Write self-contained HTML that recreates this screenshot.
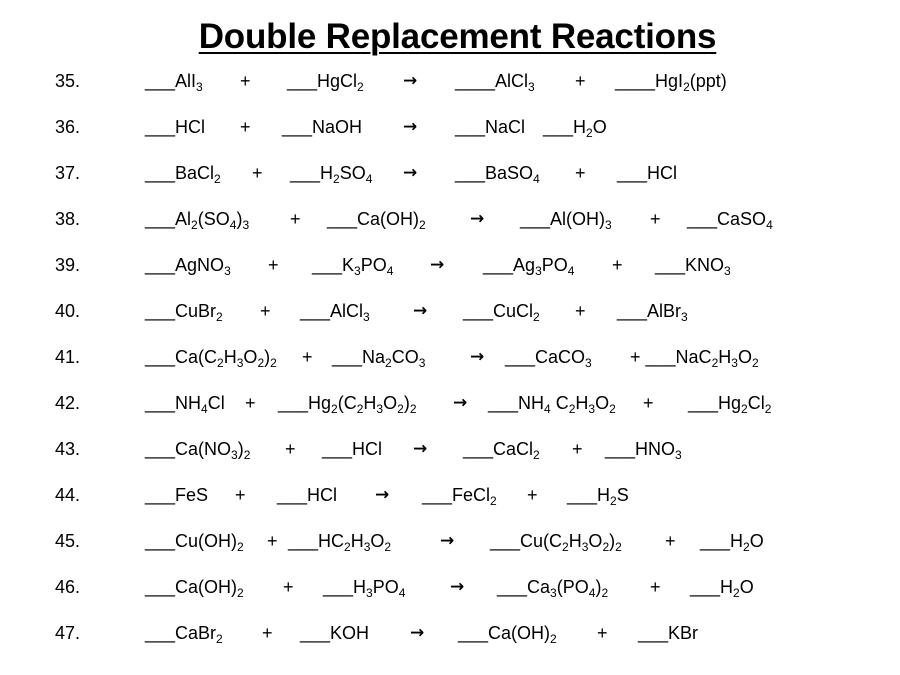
<!DOCTYPE html>
<html><head><meta charset="utf-8"><style>
body{margin:0;background:#fff;}
#p{position:relative;width:900px;height:675px;overflow:hidden;font-family:"Liberation Sans",sans-serif;color:#000;}
h1{position:absolute;left:0;width:915px;top:17px;margin:0;text-align:center;font-size:35px;font-weight:bold;text-decoration:underline;text-decoration-thickness:2px;text-underline-offset:4px;letter-spacing:-0.2px;}
.r{position:absolute;left:0;width:900px;height:24px;font-size:18px;}
.r span{position:absolute;top:0;white-space:nowrap;}
sub{font-size:12px;vertical-align:-4px;line-height:0;}
.a{font-family:"DejaVu Sans",sans-serif;font-size:17px;font-weight:bold;}
</style></head><body><div id="p">
<h1>Double Replacement Reactions</h1>

<div class="r" style="top:71px"><span style="left:55px">35.</span><span style="left:145px">___AlI<sub>3</sub></span><span style="left:240px">+</span><span style="left:287px">___HgCl<sub>2</sub></span><span class="a" style="left:403px">→</span><span style="left:455px">____AlCl<sub>3</sub></span><span style="left:575px">+</span><span style="left:615px">____HgI<sub>2</sub>(ppt)</span></div>

<div class="r" style="top:117px"><span style="left:55px">36.</span><span style="left:145px">___HCl</span><span style="left:240px">+</span><span style="left:282px">___NaOH</span><span class="a" style="left:403px">→</span><span style="left:455px">___NaCl</span><span style="left:543px">___H<sub>2</sub>O</span></div>

<div class="r" style="top:163px"><span style="left:55px">37.</span><span style="left:145px">___BaCl<sub>2</sub></span><span style="left:252px">+</span><span style="left:290px">___H<sub>2</sub>SO<sub>4</sub></span><span class="a" style="left:403px">→</span><span style="left:455px">___BaSO<sub>4</sub></span><span style="left:575px">+</span><span style="left:617px">___HCl</span></div>

<div class="r" style="top:209px"><span style="left:55px">38.</span><span style="left:145px">___Al<sub>2</sub>(SO<sub>4</sub>)<sub>3</sub></span><span style="left:290px">+</span><span style="left:327px">___Ca(OH)<sub>2</sub></span><span class="a" style="left:470px">→</span><span style="left:520px">___Al(OH)<sub>3</sub></span><span style="left:650px">+</span><span style="left:687px">___CaSO<sub>4</sub></span></div>

<div class="r" style="top:255px"><span style="left:55px">39.</span><span style="left:145px">___AgNO<sub>3</sub></span><span style="left:268px">+</span><span style="left:312px">___K<sub>3</sub>PO<sub>4</sub></span><span class="a" style="left:430px">→</span><span style="left:483px">___Ag<sub>3</sub>PO<sub>4</sub></span><span style="left:612px">+</span><span style="left:655px">___KNO<sub>3</sub></span></div>

<div class="r" style="top:301px"><span style="left:55px">40.</span><span style="left:145px">___CuBr<sub>2</sub></span><span style="left:260px">+</span><span style="left:300px">___AlCl<sub>3</sub></span><span class="a" style="left:413px">→</span><span style="left:463px">___CuCl<sub>2</sub></span><span style="left:575px">+</span><span style="left:617px">___AlBr<sub>3</sub></span></div>

<div class="r" style="top:347px"><span style="left:55px">41.</span><span style="left:145px">___Ca(C<sub>2</sub>H<sub>3</sub>O<sub>2</sub>)<sub>2</sub></span><span style="left:302px">+</span><span style="left:332px">___Na<sub>2</sub>CO<sub>3</sub></span><span class="a" style="left:470px">→</span><span style="left:505px">___CaCO<sub>3</sub></span><span style="left:630px">+ ___NaC<sub>2</sub>H<sub>3</sub>O<sub>2</sub></span></div>

<div class="r" style="top:393px"><span style="left:55px">42.</span><span style="left:145px">___NH<sub>4</sub>Cl</span><span style="left:245px">+</span><span style="left:278px">___Hg<sub>2</sub>(C<sub>2</sub>H<sub>3</sub>O<sub>2</sub>)<sub>2</sub></span><span class="a" style="left:453px">→</span><span style="left:488px">___NH<sub>4</sub> C<sub>2</sub>H<sub>3</sub>O<sub>2</sub></span><span style="left:643px">+</span><span style="left:688px">___Hg<sub>2</sub>Cl<sub>2</sub></span></div>

<div class="r" style="top:439px"><span style="left:55px">43.</span><span style="left:145px">___Ca(NO<sub>3</sub>)<sub>2</sub></span><span style="left:285px">+</span><span style="left:322px">___HCl</span><span class="a" style="left:413px">→</span><span style="left:463px">___CaCl<sub>2</sub></span><span style="left:572px">+</span><span style="left:605px">___HNO<sub>3</sub></span></div>

<div class="r" style="top:485px"><span style="left:55px">44.</span><span style="left:145px">___FeS</span><span style="left:235px">+</span><span style="left:277px">___HCl</span><span class="a" style="left:375px">→</span><span style="left:422px">___FeCl<sub>2</sub></span><span style="left:527px">+</span><span style="left:567px">___H<sub>2</sub>S</span></div>

<div class="r" style="top:531px"><span style="left:55px">45.</span><span style="left:145px">___Cu(OH)<sub>2</sub></span><span style="left:267px">+</span><span style="left:288px">___HC<sub>2</sub>H<sub>3</sub>O<sub>2</sub></span><span class="a" style="left:440px">→</span><span style="left:490px">___Cu(C<sub>2</sub>H<sub>3</sub>O<sub>2</sub>)<sub>2</sub></span><span style="left:665px">+</span><span style="left:700px">___H<sub>2</sub>O</span></div>

<div class="r" style="top:577px"><span style="left:55px">46.</span><span style="left:145px">___Ca(OH)<sub>2</sub></span><span style="left:283px">+</span><span style="left:323px">___H<sub>3</sub>PO<sub>4</sub></span><span class="a" style="left:450px">→</span><span style="left:497px">___Ca<sub>3</sub>(PO<sub>4</sub>)<sub>2</sub></span><span style="left:650px">+</span><span style="left:690px">___H<sub>2</sub>O</span></div>

<div class="r" style="top:623px"><span style="left:55px">47.</span><span style="left:145px">___CaBr<sub>2</sub></span><span style="left:262px">+</span><span style="left:300px">___KOH</span><span class="a" style="left:410px">→</span><span style="left:458px">___Ca(OH)<sub>2</sub></span><span style="left:597px">+</span><span style="left:638px">___KBr</span></div>
</div></body></html>
